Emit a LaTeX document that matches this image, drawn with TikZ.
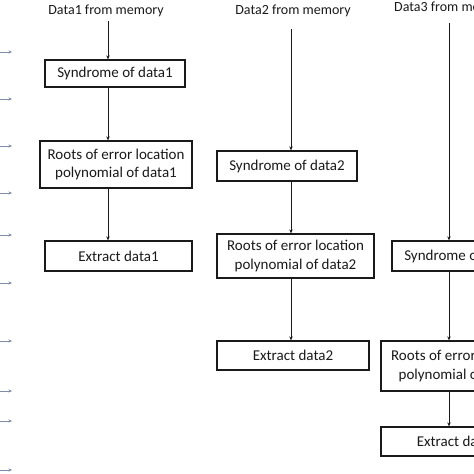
\documentclass[tikz,border=0pt]{standalone}
\usepackage{fontspec}
\setmainfont{Carlito}
\usetikzlibrary{arrows.meta}

\definecolor{inkgrey}{HTML}{1A1A1A}
\definecolor{sidearrow}{HTML}{7F8EA6}

\tikzset{
  stepbox/.style={draw=inkgrey, line width=1.3pt, text=inkgrey, font=\fontsize{15}{18.5}\selectfont,
    align=center, inner sep=0pt},
  srclabel/.style={text=inkgrey, font=\fontsize{14}{16}\selectfont, inner sep=0pt},
  flow/.style={draw=inkgrey, line width=0.8pt, -{Stealth[length=4pt,width=3.5pt]}},
  sidetick/.style={draw=sidearrow, line width=0.9pt, -{Stealth[length=3.5pt,width=3pt]}}
}

\begin{document}
\begin{tikzpicture}[x=1pt,y=-1pt]
  % cadre
  \useasboundingbox (0,0) rectangle (474,474);
  \clip (0,0) rectangle (474,474);
  \fill[white] (0,0) rectangle (474,474);
  % fleches a gauche
  \foreach \y in {52,99,146,193,235,283,341,391,421,470}
    \draw[sidetick] (0,\y) -- (12,\y);
  % colonnes des fleches
  \coordinate (c1) at (108,0);
  \coordinate (c2) at (291,0);
  \coordinate (c3) at (449,0);
  % colonne 1
  \node[srclabel] (lab1) at (106,11) {Data1 from memory};
  \node[stepbox, minimum width=140pt, minimum height=27pt] (syn1) at (115,73.5) {Syndrome of data1};
  \node[stepbox, minimum width=152pt, minimum height=47pt] (roots1) at (116,164.5) {Roots of error location\\polynomial of data1};
  \node[stepbox, minimum width=147pt, minimum height=30pt] (ext1) at (118.5,256) {Extract data1};
  % colonne 2
  \node[srclabel] (lab2) at (293,11) {Data2 from memory};
  \node[stepbox, minimum width=140pt, minimum height=30pt] (syn2) at (287,166) {Syndrome of data2};
  \node[stepbox, minimum width=157pt, minimum height=44pt] (roots2) at (295.5,256) {Roots of error location\\polynomial of data2};
  \node[stepbox, minimum width=152pt, minimum height=29pt] (ext2) at (293,355.5) {Extract data2};
  % colonne 3
  \node[srclabel, anchor=west] (lab3) at (394,8) {Data3 from memory};
  \node[stepbox, minimum width=140pt, minimum height=30pt] (syn3) at (462,256) {Syndrome of data3};
  \node[stepbox, minimum width=157pt, minimum height=50pt] (roots3) at (459.5,366) {Roots of error location\\polynomial of data3};
  \node[stepbox, minimum width=152pt, minimum height=29pt] (ext3) at (457,441.5) {Extract data3};
  % fleches
  \draw[flow] (lab1.south -| c1) ++(0,4) -- (syn1.north -| c1);
  \draw[flow] (syn1.south -| c1) -- (roots1.north -| c1);
  \draw[flow] (roots1.south -| c1) -- (ext1.north -| c1);
  \draw[flow] (lab2.south -| c2) ++(0,12) -- (syn2.north -| c2);
  \draw[flow] (syn2.south -| c2) -- (roots2.north -| c2);
  \draw[flow] (roots2.south -| c2) -- (ext2.north -| c2);
  \draw[flow] (lab3.south -| c3) ++(0,9) -- (syn3.north -| c3);
  \draw[flow] (syn3.south -| c3) -- (roots3.north -| c3);
  \draw[flow] (roots3.south -| c3) -- (ext3.north -| c3);
\end{tikzpicture}
\end{document}
